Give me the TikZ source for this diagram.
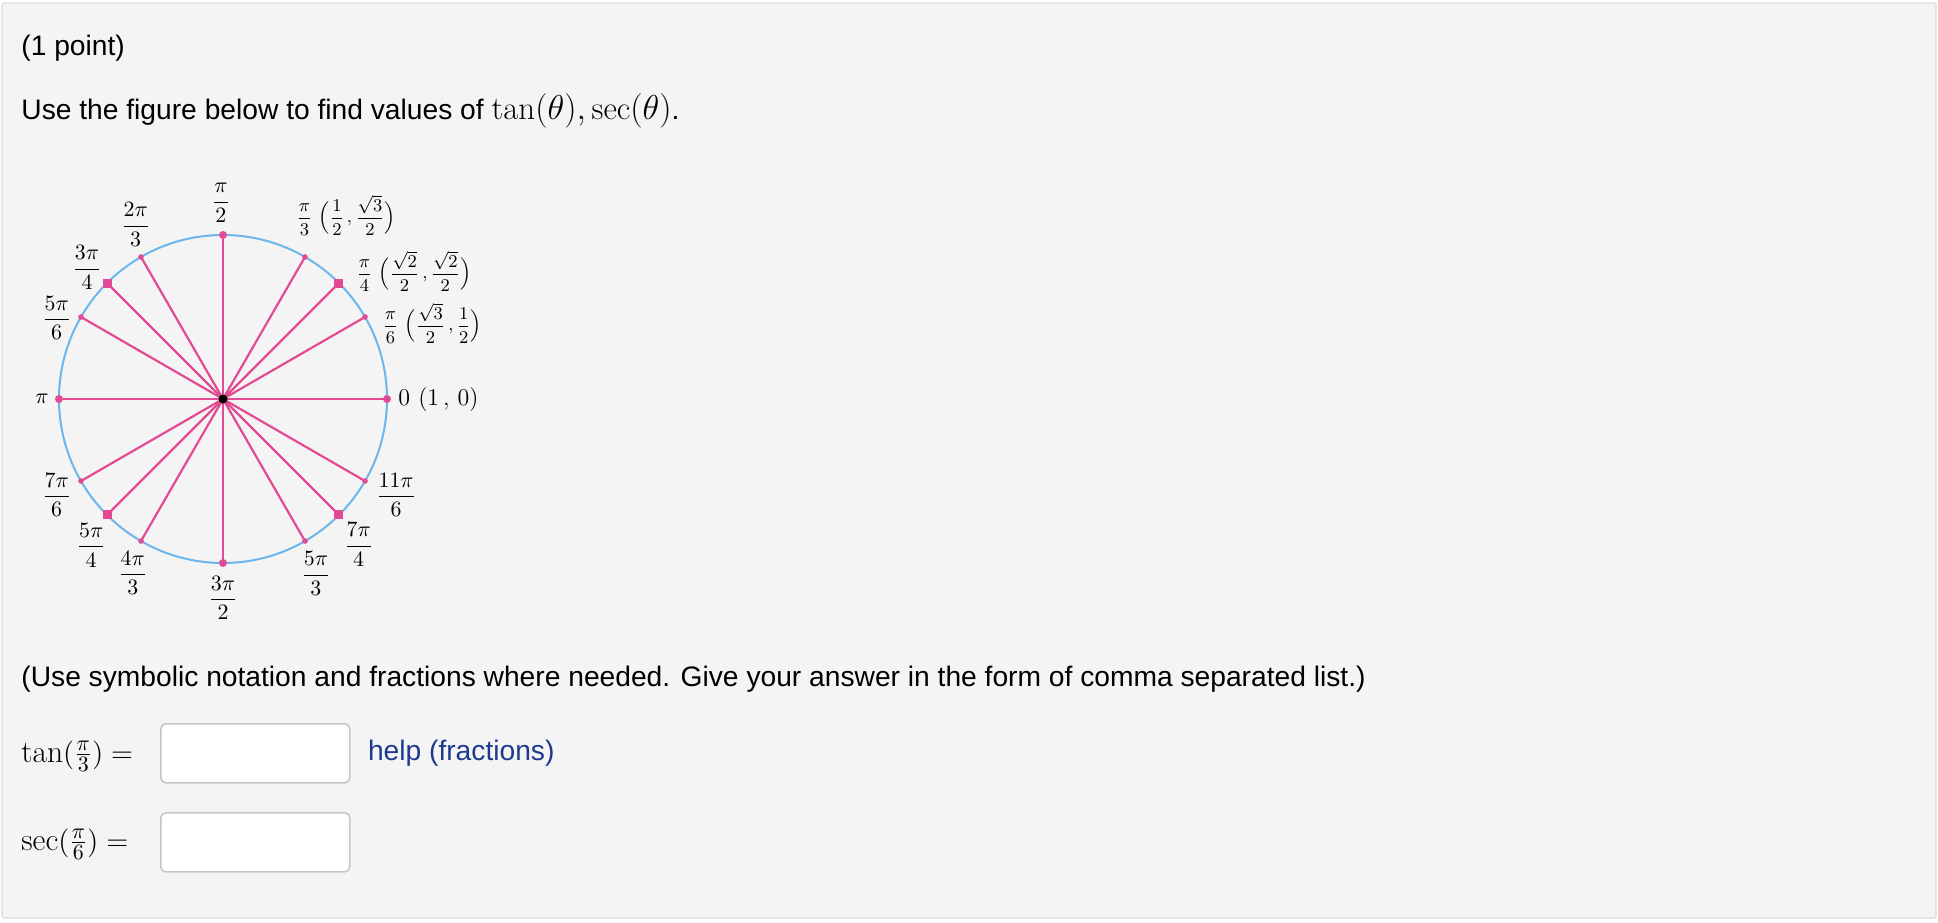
\documentclass[tikz,border=0pt]{standalone}
\usepackage{amsmath}
\usepackage{fontspec}
\newfontfamily\websans{Liberation Sans}
\usetikzlibrary{positioning}

\definecolor{panelgray}{HTML}{F4F4F4}
\definecolor{panelline}{HTML}{DCDCDC}
\definecolor{ringblue}{HTML}{6CB6EE}
\definecolor{raypink}{HTML}{E24B93}
\definecolor{helpblue}{HTML}{1E3A8F}
\definecolor{boxline}{HTML}{C6C6C6}

\tikzset{
  prose/.style={anchor=base west, inner sep=0pt, font=\websans\fontsize{14.1}{16}\selectfont},
  anglabel/.style={inner sep=0pt, font=\fontsize{11}{13}\selectfont},
  pairlabel/.style={inner sep=0pt, anchor=west, font=\fontsize{9.3}{11}\selectfont},
  ray/.style={raypink, line width=1.1pt},
  answerbox/.style={draw=boxline, fill=white, line width=0.8pt, rounded corners=2.5pt,
    minimum width=94.5pt, minimum height=29.5pt, anchor=north west},
}

\begin{document}
\begin{tikzpicture}[x=0.5pt,y=-0.5pt]
  \useasboundingbox (0,0) rectangle (1938,922);

  % panel
  \draw[panelline, fill=panelgray, line width=0.6pt, rounded corners=1pt] (2,3) rectangle (1936,918);

  % question text
  \node[prose] (points) at (21,55) {(1 point)};
  \node[prose] (task) at (21,119) {Use the figure below to find values of
    {\fontsize{16.5}{18}\selectfont$\tan(\theta), \sec(\theta)$}.};

  % unit circle, centre (223,399), radius 164
  \begin{scope}[shift={(223,399)}, yscale=-1]
    \coordinate (O) at (0,0);
    \draw[ringblue, line width=1pt] (O) circle[radius=164];
    \foreach \ang in {0,30,45,60,90,120,135,150,180,210,225,240,270,300,315,330}
      \draw[ray] (O) -- (\ang:164) coordinate (p\ang);

    % marks on the circle
    \foreach \ang in {0,90,180,270}
      \fill[raypink] (p\ang) circle[radius=4];
    \foreach \ang in {30,60,120,150,210,240,300,330}
      \fill[raypink] (p\ang) circle[radius=2.8];
    \foreach \ang in {45,135,225,315}
      \fill[raypink] ([shift={(-4.5,-4.5)}]p\ang) rectangle ++(9,9);
    \fill[black] (O) circle[radius=4.5];

    % angle labels
    \foreach \pos/\txt [count=\i] in {
        90.6:196/{\dfrac{\pi}{2}}, 116.6:195/{\dfrac{2\pi}{3}}, 136:189/{\dfrac{3\pi}{4}},
        154:185/{\dfrac{5\pi}{6}}, 180:181/{\pi}, 210:192/{\dfrac{7\pi}{6}},
        228:197/{\dfrac{5\pi}{4}}, 242.6:196/{\dfrac{4\pi}{3}}, 270:199/{\dfrac{3\pi}{2}},
        298:198/{\dfrac{5\pi}{3}}, 313:199/{\dfrac{7\pi}{4}}, 331:198/{\dfrac{11\pi}{6}}}
      \node[anglabel] (lab\i) at (\pos) {$\txt$};

    \node[anglabel, anchor=west, font=\fontsize{12.5}{14}\selectfont] (labzero) at (175,0) {$0\ (1\,,\,0)$};
    \node[pairlabel] (labsix) at (159,76)
      {$\dfrac{\pi}{6}\ \Bigl(\dfrac{\sqrt{3}}{2}\,,\dfrac{1}{2}\Bigr)$};
    \node[pairlabel] (labfour) at (133,128)
      {$\dfrac{\pi}{4}\ \Bigl(\dfrac{\sqrt{2}}{2}\,,\dfrac{\sqrt{2}}{2}\Bigr)$};
    \node[pairlabel] (labthree) at (73,184)
      {$\dfrac{\pi}{3}\ \Bigl(\dfrac{1}{2}\,,\dfrac{\sqrt{3}}{2}\Bigr)$};
  \end{scope}

  % answer part
  \node[prose] (hint) at (21,686) {(Use symbolic notation and fractions where needed. Give your answer in the form of comma separated list.)};

  \node[prose, font=\fontsize{15.8}{18}\selectfont] (tanq) at (21,762) {$\tan(\frac{\pi}{3}) =$};
  \node[answerbox] (tanbox) at (160,723) {};
  \node[prose, anchor=west, text=helpblue] (help) at ([xshift=8.5pt]tanbox.east) {help (fractions)};

  \node[prose, font=\fontsize{15.8}{18}\selectfont] (secq) at (21,850) {$\sec(\frac{\pi}{6}) =$};
  \node[answerbox] (secbox) at (160,812) {};

\end{tikzpicture}
\end{document}
